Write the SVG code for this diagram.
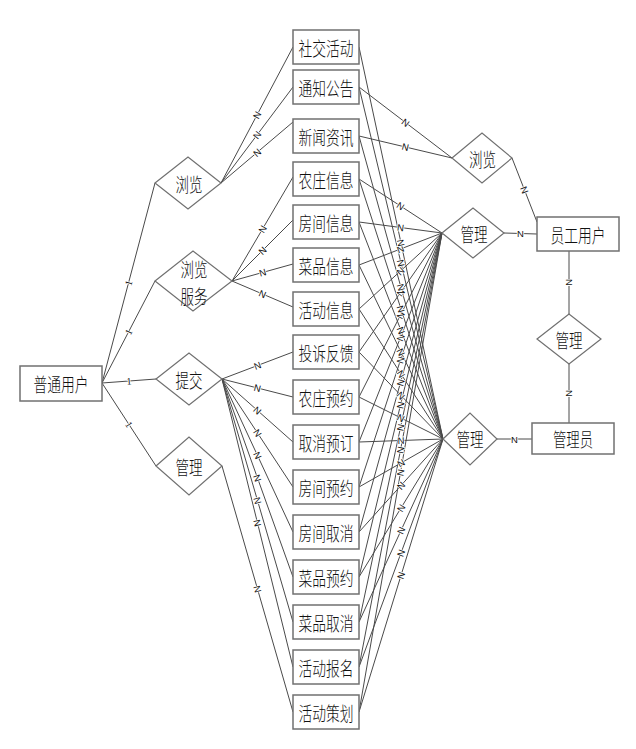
<svg xmlns="http://www.w3.org/2000/svg" width="636" height="749" viewBox="0 0 636 749">
<style>
.bg{fill:#ffffff}
.box{fill:#ffffff;stroke:#707070;stroke-width:1.5}
.dia{fill:#ffffff;stroke:#707070;stroke-width:1.2}
.t{font-family:"Noto Sans CJK SC","Noto Sans CJK JP",sans-serif;font-size:19px;font-weight:300;fill:#111;text-anchor:middle;dominant-baseline:central}
#conn line{stroke:#4a4a4a;stroke-width:1;fill:none}
.lb{font-family:"Liberation Sans",Arial,sans-serif;font-size:9.5px;fill:#111;text-anchor:middle;dominant-baseline:central;stroke:#fff;stroke-width:1.6;paint-order:stroke}
.l1{font-family:"Liberation Serif","Times New Roman",serif;font-size:10px;fill:#111;text-anchor:middle;dominant-baseline:central;stroke:#fff;stroke-width:1.6;paint-order:stroke}
</style>
<rect class="bg" x="0" y="0" width="636" height="749"/>
<g id="conn">
<line x1="102" y1="383" x2="155" y2="183"/>
<line x1="102" y1="383" x2="155" y2="281"/>
<line x1="102" y1="383" x2="156" y2="379"/>
<line x1="102" y1="383" x2="156" y2="466"/>
<line x1="221" y1="183" x2="293" y2="47"/>
<line x1="221" y1="183" x2="293" y2="87"/>
<line x1="221" y1="183" x2="293" y2="122"/>
<line x1="232" y1="281" x2="293" y2="177"/>
<line x1="232" y1="281" x2="293" y2="220"/>
<line x1="232" y1="281" x2="293" y2="264"/>
<line x1="232" y1="281" x2="293" y2="307"/>
<line x1="222" y1="379" x2="293" y2="352"/>
<line x1="222" y1="379" x2="293" y2="397"/>
<line x1="222" y1="379" x2="293" y2="442"/>
<line x1="222" y1="379" x2="293" y2="487"/>
<line x1="222" y1="379" x2="293" y2="532"/>
<line x1="222" y1="379" x2="293" y2="577"/>
<line x1="222" y1="379" x2="293" y2="622"/>
<line x1="222" y1="379" x2="293" y2="667"/>
<line x1="222" y1="466" x2="293" y2="712"/>
<line x1="359" y1="87" x2="452" y2="158"/>
<line x1="359" y1="136" x2="452" y2="158"/>
<line x1="512" y1="158" x2="537" y2="222"/>
<line x1="504" y1="233" x2="537" y2="234"/>
<line x1="569" y1="251" x2="569" y2="314"/>
<line x1="569" y1="364" x2="569" y2="423"/>
<line x1="497" y1="439" x2="532" y2="439"/>
<line x1="359" y1="179" x2="442" y2="233"/>
<line x1="359" y1="222" x2="442" y2="233"/>
<line x1="359" y1="265" x2="442" y2="233"/>
<line x1="359" y1="309" x2="442" y2="233"/>
<line x1="359" y1="352" x2="442" y2="233"/>
<line x1="359" y1="397" x2="442" y2="233"/>
<line x1="359" y1="442" x2="442" y2="233"/>
<line x1="359" y1="487" x2="442" y2="233"/>
<line x1="359" y1="532" x2="442" y2="233"/>
<line x1="359" y1="577" x2="442" y2="233"/>
<line x1="359" y1="622" x2="442" y2="233"/>
<line x1="359" y1="667" x2="442" y2="233"/>
<line x1="359" y1="712" x2="442" y2="233"/>
<line x1="359" y1="47" x2="443" y2="439"/>
<line x1="359" y1="87" x2="443" y2="439"/>
<line x1="359" y1="136" x2="443" y2="439"/>
<line x1="359" y1="179" x2="443" y2="439"/>
<line x1="359" y1="222" x2="443" y2="439"/>
<line x1="359" y1="265" x2="443" y2="439"/>
<line x1="359" y1="309" x2="443" y2="439"/>
<line x1="359" y1="352" x2="443" y2="439"/>
<line x1="359" y1="397" x2="443" y2="439"/>
<line x1="359" y1="442" x2="443" y2="439"/>
<line x1="359" y1="487" x2="443" y2="439"/>
<line x1="359" y1="532" x2="443" y2="439"/>
<line x1="359" y1="577" x2="443" y2="439"/>
<line x1="359" y1="622" x2="443" y2="439"/>
<line x1="359" y1="667" x2="443" y2="439"/>
<line x1="359" y1="712" x2="443" y2="439"/>
<g id="conn-labels">
<text class="l1" transform="translate(128.5,283) rotate(-75.2)">1</text>
<text class="l1" transform="translate(128.5,332) rotate(-62.5)">1</text>
<text class="l1" transform="translate(129,381) rotate(-4.2)">1</text>
<text class="l1" transform="translate(129,424.5) rotate(57)">1</text>
<text class="lb" transform="translate(257,115) rotate(-62.1)">N</text>
<text class="lb" transform="translate(257,135) rotate(-53.1)">N</text>
<text class="lb" transform="translate(257,152.5) rotate(-40.3)">N</text>
<text class="lb" transform="translate(262.5,229) rotate(-59.6)">N</text>
<text class="lb" transform="translate(262.5,250.5) rotate(-45)">N</text>
<text class="lb" transform="translate(262.5,272.5) rotate(-15.6)">N</text>
<text class="lb" transform="translate(262.5,294) rotate(23.1)">N</text>
<text class="lb" transform="translate(257.5,365.5) rotate(-20.8)">N</text>
<text class="lb" transform="translate(257.5,388) rotate(14.2)">N</text>
<text class="lb" transform="translate(257.5,410.5) rotate(41.6)">N</text>
<text class="lb" transform="translate(257.5,433) rotate(56.7)">N</text>
<text class="lb" transform="translate(257.5,455.5) rotate(65.1)">N</text>
<text class="lb" transform="translate(257.5,478) rotate(70.3)">N</text>
<text class="lb" transform="translate(257.5,500.5) rotate(73.7)">N</text>
<text class="lb" transform="translate(257.5,523) rotate(76.2)">N</text>
<text class="lb" transform="translate(257.5,589) rotate(73.9)">N</text>
<text class="lb" transform="translate(405.5,122.5) rotate(37.4)">N</text>
<text class="lb" transform="translate(405.5,147) rotate(13.3)">N</text>
<text class="lb" transform="translate(524.5,190) rotate(68.7)">N</text>
<text class="lb" transform="translate(520.5,233.5)">N</text>
<text class="lb" transform="translate(569,282.5) rotate(90)">N</text>
<text class="lb" transform="translate(569,393.5) rotate(90)">N</text>
<text class="lb" transform="translate(514.5,439)">N</text>
<text class="lb" transform="translate(400.5,206) rotate(33)">N</text>
<text class="lb" transform="translate(400.5,227.5) rotate(7.6)">N</text>
<text class="lb" transform="translate(400.5,249) rotate(-21.1)">N</text>
<text class="lb" transform="translate(400.5,271) rotate(-42.5)">N</text>
<text class="lb" transform="translate(400.5,292.5) rotate(-55.1)">N</text>
<text class="lb" transform="translate(400.5,315) rotate(-63.2)">N</text>
<text class="lb" transform="translate(400.5,337.5) rotate(-68.3)">N</text>
<text class="lb" transform="translate(400.5,360) rotate(-71.9)">N</text>
<text class="lb" transform="translate(400.5,382.5) rotate(-74.5)">N</text>
<text class="lb" transform="translate(400.5,405) rotate(-76.4)">N</text>
<text class="lb" transform="translate(400.5,427.5) rotate(-78)">N</text>
<text class="lb" transform="translate(400.5,450) rotate(-79.2)">N</text>
<text class="lb" transform="translate(400.5,472.5) rotate(-80.2)">N</text>
<text class="lb" transform="translate(401,243) rotate(77.9)">N</text>
<text class="lb" transform="translate(401,263) rotate(76.6)">N</text>
<text class="lb" transform="translate(401,287.5) rotate(74.5)">N</text>
<text class="lb" transform="translate(401,309) rotate(72.1)">N</text>
<text class="lb" transform="translate(401,330.5) rotate(68.8)">N</text>
<text class="lb" transform="translate(401,352) rotate(64.2)">N</text>
<text class="lb" transform="translate(401,374) rotate(57.1)">N</text>
<text class="lb" transform="translate(401,395.5) rotate(46)">N</text>
<text class="lb" transform="translate(401,418) rotate(26.6)">N</text>
<text class="lb" transform="translate(401,440.5) rotate(-2)">N</text>
<text class="lb" transform="translate(401,463) rotate(-29.7)">N</text>
<text class="lb" transform="translate(401,485.5) rotate(-47.9)">N</text>
<text class="lb" transform="translate(401,508) rotate(-58.7)">N</text>
<text class="lb" transform="translate(401,530.5) rotate(-65.4)">N</text>
<text class="lb" transform="translate(401,553) rotate(-69.8)">N</text>
<text class="lb" transform="translate(401,575.5) rotate(-72.9)">N</text>
</g>
</g>
<g id="n-putong"><rect class="box" x="20" y="366" width="82" height="35"/><text class="t" x="61" y="383.5" textLength="55" lengthAdjust="spacingAndGlyphs">普通用户</text></g>
<g id="n-liulan1"><polygon class="dia" points="155,183 188,157 221,183 188,209"/><text class="t" x="189" y="183" textLength="27" lengthAdjust="spacingAndGlyphs">浏览</text></g>
<g id="n-liulanfuwu"><polygon class="dia" points="155,281 193,251 232,281 193,311"/><text class="t" x="194" y="268" textLength="27" lengthAdjust="spacingAndGlyphs">浏览</text><text class="t" x="194" y="295" textLength="27" lengthAdjust="spacingAndGlyphs">服务</text></g>
<g id="n-tijiao"><polygon class="dia" points="156,379 189,353 222,379 189,405"/><text class="t" x="189" y="379" textLength="27" lengthAdjust="spacingAndGlyphs">提交</text></g>
<g id="n-guanli1"><polygon class="dia" points="156,466 189,437 222,466 189,495"/><text class="t" x="189" y="466.5" textLength="27" lengthAdjust="spacingAndGlyphs">管理</text></g>
<g id="n-shejiao"><rect class="box" x="293" y="30" width="66" height="34"/><text class="t" x="326" y="47" textLength="55" lengthAdjust="spacingAndGlyphs">社交活动</text></g>
<g id="n-tongzhi"><rect class="box" x="293" y="70" width="66" height="34"/><text class="t" x="326" y="87" textLength="55" lengthAdjust="spacingAndGlyphs">通知公告</text></g>
<g id="n-xinwen"><rect class="box" x="293" y="119" width="66" height="34"/><text class="t" x="326" y="136" textLength="55" lengthAdjust="spacingAndGlyphs">新闻资讯</text></g>
<g id="n-nzxx"><rect class="box" x="293" y="162" width="66" height="34"/><text class="t" x="326" y="179" textLength="55" lengthAdjust="spacingAndGlyphs">农庄信息</text></g>
<g id="n-fjxx"><rect class="box" x="293" y="205" width="66" height="34"/><text class="t" x="326" y="222" textLength="55" lengthAdjust="spacingAndGlyphs">房间信息</text></g>
<g id="n-cpxx"><rect class="box" x="293" y="248" width="66" height="34"/><text class="t" x="326" y="265" textLength="55" lengthAdjust="spacingAndGlyphs">菜品信息</text></g>
<g id="n-hdxx"><rect class="box" x="293" y="292" width="66" height="34"/><text class="t" x="326" y="309" textLength="55" lengthAdjust="spacingAndGlyphs">活动信息</text></g>
<g id="n-tsfk"><rect class="box" x="293" y="335" width="66" height="34"/><text class="t" x="326" y="352" textLength="55" lengthAdjust="spacingAndGlyphs">投诉反馈</text></g>
<g id="n-nzyy"><rect class="box" x="293" y="380" width="66" height="34"/><text class="t" x="326" y="397" textLength="55" lengthAdjust="spacingAndGlyphs">农庄预约</text></g>
<g id="n-qxyd"><rect class="box" x="293" y="425" width="66" height="34"/><text class="t" x="326" y="442" textLength="55" lengthAdjust="spacingAndGlyphs">取消预订</text></g>
<g id="n-fjyy"><rect class="box" x="293" y="470" width="66" height="34"/><text class="t" x="326" y="487" textLength="55" lengthAdjust="spacingAndGlyphs">房间预约</text></g>
<g id="n-fjqx"><rect class="box" x="293" y="515" width="66" height="34"/><text class="t" x="326" y="532" textLength="55" lengthAdjust="spacingAndGlyphs">房间取消</text></g>
<g id="n-cpyy"><rect class="box" x="293" y="560" width="66" height="34"/><text class="t" x="326" y="577" textLength="55" lengthAdjust="spacingAndGlyphs">菜品预约</text></g>
<g id="n-cpqx"><rect class="box" x="293" y="605" width="66" height="34"/><text class="t" x="326" y="622" textLength="55" lengthAdjust="spacingAndGlyphs">菜品取消</text></g>
<g id="n-hdbm"><rect class="box" x="293" y="650" width="66" height="34"/><text class="t" x="326" y="667" textLength="55" lengthAdjust="spacingAndGlyphs">活动报名</text></g>
<g id="n-hdch"><rect class="box" x="293" y="695" width="66" height="34"/><text class="t" x="326" y="712" textLength="55" lengthAdjust="spacingAndGlyphs">活动策划</text></g>
<g id="n-liulan2"><polygon class="dia" points="452,158 482,133 512,158 482,183"/><text class="t" x="482.5" y="158" textLength="27" lengthAdjust="spacingAndGlyphs">浏览</text></g>
<g id="n-guanli2"><polygon class="dia" points="442,233 473,208 504,233 473,258"/><text class="t" x="474" y="233" textLength="27" lengthAdjust="spacingAndGlyphs">管理</text></g>
<g id="n-guanli3"><polygon class="dia" points="537,339 569,314 601,339 569,364"/><text class="t" x="569" y="339" textLength="27" lengthAdjust="spacingAndGlyphs">管理</text></g>
<g id="n-guanli4"><polygon class="dia" points="443,439 470,413 497,439 470,465"/><text class="t" x="470" y="438.5" textLength="27" lengthAdjust="spacingAndGlyphs">管理</text></g>
<g id="n-yuangong"><rect class="box" x="537" y="217" width="82" height="34"/><text class="t" x="578" y="234" textLength="55" lengthAdjust="spacingAndGlyphs">员工用户</text></g>
<g id="n-guanliyuan"><rect class="box" x="532" y="423" width="82" height="31"/><text class="t" x="573" y="438.5" textLength="40" lengthAdjust="spacingAndGlyphs">管理员</text></g>
</svg>
